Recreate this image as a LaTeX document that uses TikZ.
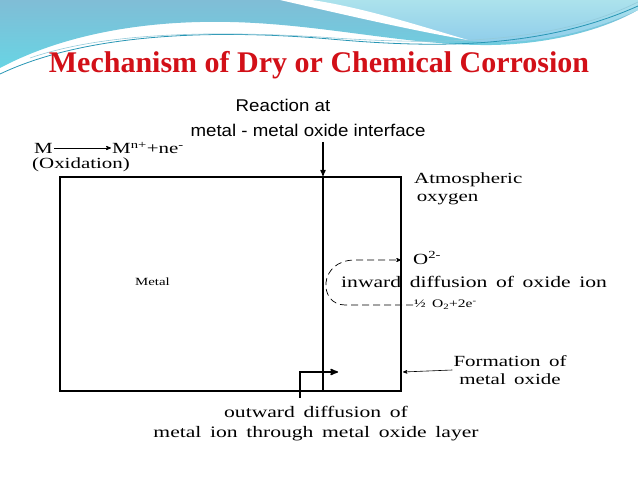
\documentclass[tikz,border=0pt]{standalone}
\usepackage{fontspec}
\setmainfont{Liberation Serif}
\newfontfamily\scanfont[FakeStretch=1.35,WordSpace=1.6]{Liberation Serif}
\newfontfamily\labelfont[FakeStretch=1.1]{Liberation Sans}
\usetikzlibrary{arrows,positioning}

\definecolor{titlered}{RGB}{210,16,24}
\definecolor{waveblue}{RGB}{128,189,214}
\definecolor{wavecyan}{RGB}{104,212,228}
\definecolor{wavelight}{RGB}{172,226,236}
\definecolor{wavesky}{RGB}{140,203,234}
\definecolor{waveline}{RGB}{40,150,180}

\begin{document}
\begin{tikzpicture}[x=1pt,y=-1pt]
  \useasboundingbox (0,0) rectangle (638,478);
  \tikzstyle{Wall}=[line width=1.6pt]
  \tikzstyle{Tip}=[-stealth',line width=0.8pt]
  \tikzstyle{Scan}=[font=\scanfont\fontsize{15.5}{18}\selectfont,inner sep=1pt]
  \tikzstyle{Sans}=[font=\labelfont\fontsize{17}{20}\selectfont,inner sep=1pt]

  \shade[top color=waveblue,bottom color=wavecyan] (0,0) -- (638,0) -- (638,10)
    .. controls (600,32) and (540,46) .. (480,45)
    .. controls (400,44) and (320,24) .. (230,22)
    .. controls (140,20) and (60,36) .. (0,68) -- cycle;
  \shade[top color=wavelight,bottom color=wavesky] (312,0)
    .. controls (370,14) and (420,30) .. (470,41)
    .. controls (540,47) and (600,28) .. (638,10) -- (638,0) -- cycle;
  \fill[white] (280,0) .. controls (350,16) and (410,30) .. (468,40)
    .. controls (420,26) and (365,8) .. (312,0) -- cycle;
  \draw[waveline,line width=0.8pt] (0,74) .. controls (80,36) and (200,28) .. (330,39)
    .. controls (430,48) and (540,50) .. (638,6);
  \draw[waveline!50,line width=0.6pt] (30,58) .. controls (100,34) and (200,30) .. (320,37)
    .. controls (430,45) and (550,46) .. (638,2);

  \node[font=\fontsize{30}{34}\selectfont\bfseries,text=titlered] (title) at (319,65)
    {Mechanism of Dry or Chemical Corrosion};

  \coordinate (nw) at (60,177);
  \coordinate (se) at (401,391);
  \coordinate (top) at (323,142);
  \coordinate (ifc) at (323,176);
  \coordinate (ifb) at (323,391);
  \coordinate (ob) at (300,398);
  \coordinate (otip) at (338,372);
  \coordinate (ftip) at (403,372);

  \draw[Wall] (nw) rectangle (se);
  \draw[Tip,line width=1.2pt] (top) -- (ifc);
  \draw[Wall] (ifc) -- (ifb);
  \draw[Wall,-stealth'] (ob) |- (otip);

  \node[Sans] (react) at (283,105) {Reaction at};
  \node[Sans] (iface) at (308,130) {metal - metal oxide interface};

  \node[Scan,anchor=west] (m) at (33,148) {M};
  \node[Scan,anchor=west] (mion) at (111,148) {M\textsuperscript{n+}+ne\textsuperscript{-}};
  \draw[Tip] (m) -- (mion);
  \node[Scan,anchor=west] (ox) at (31,165) {(Oxidation)};

  \node[Scan,anchor=west] (metal) at (134,282) {\fontsize{11}{13}\selectfont Metal};
  \node[Scan,anchor=north west,align=left] (atm) at (413,172) {Atmospheric\\\,oxygen};

  \node[Scan,anchor=west] (oion) at (412,258) {O\textsuperscript{2-}};
  \node[Scan,anchor=west] (inward) at (340,282) {\fontsize{16}{19}\selectfont inward diffusion of oxide ion};
  \node[Scan,anchor=west] (half) at (413,305) {\fontsize{11.5}{13}\selectfont ½ O\textsubscript{2}+2e\textsuperscript{-}};
  \draw[dash pattern=on 7pt off 4pt,-stealth',line width=0.7pt] (half.west) -- (345,305)
    .. controls (318,305) and (318,260) .. (355,260) -- (401,260);

  \node[Scan,align=center] (form) at (510,370) {Formation of\\metal oxide};
  \draw[-stealth',line width=0.6pt] (form.west) -- (ftip);

  \node[Scan,align=center,font=\scanfont\fontsize{16}{20}\selectfont] (outward) at (316,424)
    {outward diffusion of\\metal ion through metal oxide layer};
\end{tikzpicture}
\end{document}
